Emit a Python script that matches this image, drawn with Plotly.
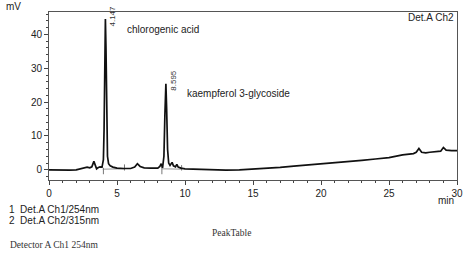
import plotly.graph_objects as go

# Chromatogram (time in min, signal in mV)
time_min = [0, 0.5, 1.0, 1.5, 2.0, 2.3, 2.5, 2.8, 3.0, 3.15, 3.3, 3.4, 3.5, 3.6, 3.75, 3.9,
            4.0, 4.05, 4.1, 4.147, 4.19, 4.24, 4.3, 4.38, 4.5, 4.7, 5.0, 5.5, 6.0, 6.3, 6.5,
            6.7, 7.0, 7.5, 8.0, 8.15, 8.25, 8.35, 8.45, 8.52, 8.595, 8.65, 8.72, 8.8, 8.9,
            9.05, 9.15, 9.3, 9.4, 9.5, 9.7, 10.0, 11.0, 12.0, 13.0, 14.0, 15.0, 16.0, 17.0,
            18.0, 19.0, 20.0, 21.0, 22.0, 23.0, 24.0, 25.0, 26.0, 26.8, 27.0, 27.2, 27.4,
            27.7, 28.0, 28.5, 28.8, 29.0, 29.2, 29.6, 30.0]
signal_mv = [0.0, -0.1, 0.0, -0.1, 0.0, 0.3, 0.7, 0.8, 0.6, 0.9, 2.5, 1.2, 0.3, 0.6, 0.9, 0.8,
             3.0, 12.0, 36.0, 44.5, 36.0, 14.0, 4.0, 1.8, 1.2, 0.8, 0.5, 0.4, 0.4, 0.8, 1.8,
             1.0, 0.6, 0.5, 0.5, 1.0, 1.8, 0.6, 4.0, 16.0, 25.4, 18.0, 6.0, 2.0, 1.3,
             2.2, 1.2, 0.9, 1.6, 0.8, 0.5, 0.3, 0.1, -0.1, -0.1, 0.0, 0.2, 0.4, 0.7,
             1.1, 1.4, 1.8, 2.1, 2.5, 2.8, 3.2, 3.6, 4.4, 4.8, 5.2, 6.3, 5.2,
             5.0, 5.2, 5.3, 5.5, 6.6, 5.8, 5.7, 5.7]

# Integration baselines and markers
base_t = [3.95, 5.6, None, 8.3, 9.8]
base_v = [0.2, 0.3, None, 0.3, 0.2]
mark_t = [4.0, 4.0, None, 5.55, 5.55, None, 8.3, 8.3, None, 9.75, 9.75]
mark_v = [-1.3, 0.6, None, -0.2, 1.6, None, -1.3, 1.0, None, -0.2, 1.4]

peak_rt = ["4.147", "8.595"]
peak_t = [4.147, 8.595]
peak_v = [44.5, 25.4]
peak_names = ["chlorogenic acid", "kaempferol 3-glycoside"]

x_ticks = [0, 5, 10, 15, 20, 25, 30]
y_ticks = [0, 10, 20, 30, 40]

fig = go.Figure()
fig.add_trace(go.Scatter(x=base_t, y=base_v, mode="lines",
                         line=dict(color="#999999", width=1), hoverinfo="skip"))
fig.add_trace(go.Scatter(x=mark_t, y=mark_v, mode="lines",
                         line=dict(color="#777777", width=1), hoverinfo="skip"))
fig.add_trace(go.Scatter(x=time_min, y=signal_mv, mode="lines",
                         line=dict(color="#111111", width=1.7)))

af = dict(family="Liberation Sans, Arial", size=10, color="#222222")
for rt, t, v in zip(peak_rt, peak_t, peak_v):
    fig.add_annotation(x=t, y=v, text=rt, textangle=-90, showarrow=False,
                       xanchor="left", yanchor="bottom", xshift=1, yshift=-9,
                       font=dict(family="Liberation Sans, Arial", size=8, color="#333333"))
fig.add_annotation(x=5.6, y=41.5, text=peak_names[0], showarrow=False, xanchor="left",
                   yanchor="middle", font=af)
fig.add_annotation(x=10.0, y=22.5, text=peak_names[1], showarrow=False, xanchor="left",
                   yanchor="middle", font=af)

paper = [
    ("mV", -0.087, 1.03, "center", af),
    ("Det.A Ch2", 0.998, 0.965, "right", af),
    ("min", 0.998, -0.12, "right", af),
]
for txt, x, y, anc, f in paper:
    fig.add_annotation(xref="paper", yref="paper", x=x, y=y, text=txt, showarrow=False,
                       xanchor=anc, yanchor="middle", font=f)

legend_lines = ["1  Det.A Ch1/254nm", "2  Det.A Ch2/315nm"]
for i, s in enumerate(legend_lines):
    fig.add_annotation(xref="paper", yref="paper", x=-0.102, y=(180 - 209 - 11 * i) / 168,
                       text=s, showarrow=False, xanchor="left", yanchor="middle", font=af)
sf = dict(family="Liberation Serif, Times New Roman", size=9.5, color="#333333")
fig.add_annotation(xref="paper", yref="paper", x=(234 - 49) / 414, y=(180 - 233) / 168,
                   text="PeakTable", showarrow=False, xanchor="center", yanchor="middle", font=sf)
fig.add_annotation(xref="paper", yref="paper", x=-0.1, y=(180 - 245) / 168,
                   text="Detector A Ch1 254nm", showarrow=False, xanchor="left",
                   yanchor="middle", font=sf)

fig.update_layout(
    width=474, height=253, margin=dict(l=49, r=11, t=12, b=73),
    paper_bgcolor="white", plot_bgcolor="white", showlegend=False,
    font=dict(family="Liberation Sans, Arial", size=10, color="#222222"),
)
fig.update_xaxes(range=[0, 30], tickvals=x_ticks, showgrid=False, zeroline=False,
                 showline=True, linecolor="#555555", linewidth=1, mirror=True,
                 ticks="outside", ticklen=4, tickcolor="#444444",
                 minor=dict(dtick=1, ticks="outside", ticklen=2, tickcolor="#444444"),
                 tickfont=dict(size=10, color="#222222"))
fig.update_yaxes(range=[-3, 46.6], tickvals=y_ticks, showgrid=False, zeroline=False,
                 showline=True, linecolor="#555555", linewidth=1, mirror=True,
                 ticks="outside", ticklen=4, tickcolor="#444444",
                 minor=dict(dtick=2, tick0=0, ticks="outside", ticklen=2, tickcolor="#444444"),
                 tickfont=dict(size=10, color="#222222"))

fig.write_html("out.html")
